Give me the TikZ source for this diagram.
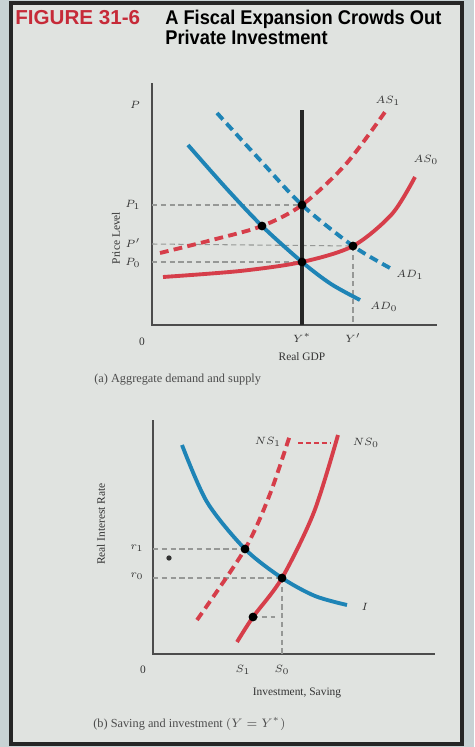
\documentclass[tikz,border=0pt]{standalone}
\usepackage{fontspec}
\setmainfont{Liberation Serif}
\newfontfamily\headfont{Liberation Sans}
\usetikzlibrary{positioning, calc}
\definecolor{PaperGray}{RGB}{224,227,224}
\definecolor{EdgeGray}{RGB}{200,210,212}
\definecolor{CurveRed}{RGB}{214,62,74}
\definecolor{CurveBlue}{RGB}{30,132,182}
\definecolor{GuideGray}{RGB}{150,152,150}
\definecolor{TitleRed}{RGB}{198,42,56}
\tikzset{
  % axes and guides
  axis/.style={line width=1.3pt,black!70},
  guide/.style={GuideGray,line width=0.6pt,dash pattern=on 3pt off 2pt},
  % curves
  curve as/.style={CurveRed,line width=2.2pt},
  curve ad/.style={CurveBlue,line width=2.2pt},
  shifted/.style={dash pattern=on 5pt off 3pt},
  eq dot/.style={circle,fill=black,inner sep=0pt,minimum size=5pt},
  % text
  lbl/.style={font=\fontsize{6.5}{7}\selectfont,text=black!80,inner sep=1pt},
  caption/.style={font=\fontsize{7}{8}\selectfont,text=black!70,inner sep=0pt,anchor=west}
}

\begin{document}
\begin{tikzpicture}[x=0.02cm,y=-0.02cm]
    \useasboundingbox (0,0) rectangle (474,747);
    \fill[EdgeGray] (0,0) rectangle (474,747);
    \fill[PaperGray] (11,3) rectangle (462,744);
    \draw[line width=2pt,black!85] (11,3) rectangle (462,744);

    % title
    \node[anchor=north west,inner sep=0pt,xscale=1.02,font=\headfont\bfseries\fontsize{11.5}{12}\selectfont,text=TitleRed] (fig) at (15,10) {FIGURE 31-6};
    \node[anchor=north west,inner sep=0pt,xscale=0.92,align=left,font=\headfont\bfseries\fontsize{11.3}{11.5}\selectfont] (head) at (165,10) {A Fiscal Expansion Crowds Out\\Private Investment};

    %% (a) aggregate demand and supply
    \coordinate (o1) at (152,325);
    \draw[axis] (152,83) -- (o1) -- (437,325);
    \node[lbl] (plab) at (135,105) {$P$};
    \node[lbl] (zero1) at (142,342) {0};
    \node[lbl,rotate=90] (ylab1) at (116,238) {Price Level};
    \node[lbl] (xlab1) at (302,357) {Real GDP};

    \coordinate (e0) at (302,262);
    \coordinate (e1) at (302,205);
    \coordinate (ea) at (262,226);
    \coordinate (eb) at (353,246);
    \coordinate (yb) at (353,325);

    \draw[guide] (152,205) -- (e1);
    \draw[guide] (152,244) -- (eb);
    \draw[guide] (152,262) -- (e0);
    \draw[guide] (eb) -- (yb);

    \draw[curve as] plot[smooth] coordinates {(163,277) (240,271) (302,262) (353,246) (392,214) (415,177)};
    \draw[curve as,shifted] plot[smooth] coordinates {(160,253) (212,240) (262,226) (302,205) (346,164) (385,112)};
    \draw[curve ad] plot[smooth] coordinates {(188,145) (226,188) (262,226) (302,262) (331,284) (360,300)};
    \draw[curve ad,shifted] plot[smooth] coordinates {(217,113) (260,160) (302,205) (353,246) (390,268)};

    \draw[line width=1.8pt,black!85] (302,110) -- (302,325);
    \foreach \p in {e0,e1,ea,eb} \node[eq dot] at (\p) {};

    \node[lbl] (asone) at (388,101) {$AS_1$};
    \node[lbl] (aszero) at (426,160) {$AS_0$};
    \node[lbl] (adone) at (410,275) {$AD_1$};
    \node[lbl] (adzero) at (384,307) {$AD_0$};
    \node[lbl] (pone) at (133,205) {$P_1$};
    \node[lbl] (pprime) at (133,243) {$P'$};
    \node[lbl] (pzero) at (133,263) {$P_0$};
    \node[lbl] (ystar) at (302,338) {$Y^{*}$};
    \node[lbl] (yprime) at (353,338) {$Y'$};
    \node[caption] (capa) at (94,380) {(a) Aggregate demand and supply};

    %% (b) saving and investment
    \coordinate (o2) at (153,654);
    \draw[axis] (153,420) -- (o2) -- (435,654);
    \node[lbl] (zero2) at (143,670) {0};
    \node[lbl,rotate=90] (ylab2) at (101,524) {Real Interest Rate};
    \node[lbl] (xlab2) at (297,693) {Investment, Saving};

    \coordinate (r1pt) at (245,549);
    \coordinate (r0pt) at (282,578);
    \coordinate (s1pt) at (253,617);

    \draw[guide] (153,549) -- (r1pt);
    \draw[guide] (153,578) -- (r0pt);
    \draw[guide] (r0pt) -- (282,654);
    \draw[guide] (s1pt) -- (275,617);

    \draw[curve ad] plot[smooth] coordinates {(182,445) (207,502) (245,549) (282,578) (315,596) (347,605)};
    \draw[curve as,shifted] plot[smooth] coordinates {(197,620) (245,549) (270,494) (290,435)};
    \draw[curve as] plot[smooth] coordinates {(237,642) (253,617) (282,578) (314,512) (338,435)};
    \draw[CurveRed,line width=1pt,dash pattern=on 3pt off 1.5pt] (298,443) -- (331,443);

    \foreach \p in {r1pt,r0pt,s1pt} \node[eq dot] at (\p) {};
    \node[circle,fill=black!80,inner sep=0pt,minimum size=3pt] (stray) at (169,558) {};

    \node[lbl] (nsone) at (268,442) {$NS_1$};
    \node[lbl] (nszero) at (366,443) {$NS_0$};
    \node[lbl] (invlab) at (365,607) {$I$};
    \node[lbl] (rone) at (137,548) {$r_1$};
    \node[lbl] (rzero) at (137,576) {$r_0$};
    \node[lbl] (sone) at (243,670) {$S_1$};
    \node[lbl] (szero) at (282,670) {$S_0$};
    \node[caption] (capb) at (93,724) {(b) Saving and investment $(Y=Y^{*})$};
\end{tikzpicture}
\end{document}
